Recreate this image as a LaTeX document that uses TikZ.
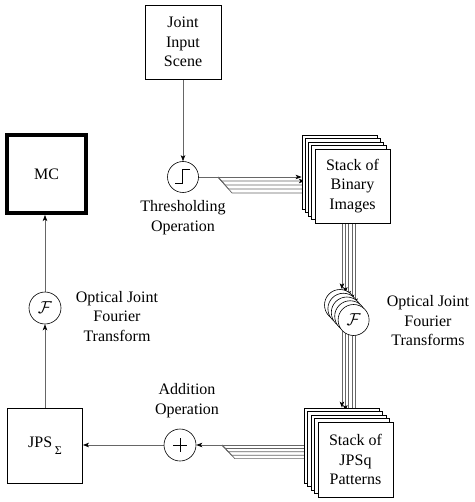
\documentclass[tikz,border=0pt]{standalone}
\usepackage{fontspec}
\setmainfont{Liberation Serif}
\usetikzlibrary{arrows.meta,calc}
\pgfdeclarelayer{paper}
\pgfdeclarelayer{wires}
\pgfsetlayers{paper,wires,main}
\begin{document}
\begin{tikzpicture}[x=1pt,y=-1pt,
  txt/.style={font=\fontsize{16}{19.5}\selectfont, align=center},
  box/.style={draw, line width=0.9pt, minimum width=76pt, minimum height=74pt, inner sep=0pt, txt},
  page/.style={draw, fill=white, line width=0.8pt, minimum width=75pt, minimum height=74pt, inner sep=0pt, txt},
  op/.style={draw, circle, fill=white, line width=0.6pt, minimum size=31pt, inner sep=0pt},
  wire/.style={draw=black!60, line width=0.7pt},
  arr/.style={wire, -{Stealth[length=6pt,width=4.5pt,inset=1.5pt,color=black]}}]
\begin{pgfonlayer}{paper}
\fill[white] (0,0) rectangle (474,502);
\end{pgfonlayer}
\useasboundingbox (0,0) rectangle (474,502);

% Joint input scene and thresholding
\node[box] (jis) at (183,42) {Joint\\Input\\Scene};
\node[op] (thr) at (183,177) {};
\draw[line width=0.6pt] ($(thr)+(-8,6)$) -- ++(7,0) -- ++(0,-14) -- ++(8,0);
\node[txt] (thrl) at (183,217.5) {Thresholding\\Operation};

% stack of binary images
\foreach \j in {0,...,3} \node[page] (b\j) at ({339.5+3.25*\j},{172+3.5*\j}) {};
\node[page] (b4) at (352.5,186) {Stack of\\Binary\\Images};

% optical joint Fourier transforms (stack of circles)
\foreach \j in {0,...,3} \node[op] (f\j) at ({340+3.4*\j},{305+3.75*\j}) {};
\node[op, font=\fontsize{17}{17}\selectfont] (f4) at (353.6,320) {$\mathcal{F}$};
\node[txt] (fl) at (428,321) {Optical Joint\\Fourier\\Transforms};

% stack of JPSq patterns
\foreach \j in {0,...,3} \node[page, minimum height=75pt] (p\j) at ({341.5+3.5*\j},{445.5+3.5*\j}) {};
\node[page, minimum height=75pt] (p4) at (355.5,459.5) {Stack of\\JPSq\\Patterns};

% addition
\node[op, minimum size=32pt] (add) at (180,445) {};
\draw[line width=0.6pt] ($(add)+(-7,0)$) -- ++(14,0);
\draw[line width=0.6pt] ($(add)+(0,-7)$) -- ++(0,14);
\node[txt] (addl) at (187,400.5) {Addition\\Operation};

% JPS sum, FT, MC
\node[box, minimum width=75pt, minimum height=75pt] (jps) at (45,445.5) {JPS\,\raisebox{-7pt}{\fontsize{12}{12}\selectfont Σ}};
\node[op, minimum size=32pt, font=\fontsize{16}{16}\selectfont] (ft) at (45,308) {$\mathcal{F}$};
\node[txt] (ftl) at (117,316.5) {Optical Joint\\Fourier\\Transform};
\node[draw, line width=4pt, minimum width=79pt, minimum height=78pt, inner sep=0pt, txt] (mc) at (46.5,174) {MC};

\begin{pgfonlayer}{wires}
\draw[arr] (jis.south) -- (thr.north);
\coordinate (fan) at (218,177);
\draw[wire] (thr.east) -- (fan);
\foreach \j in {0,...,4} {
  \path (fan) ++({3.5*\j},{4*\j}) coordinate (t\j);
  \draw[arr] (fan) -- (t\j) -- (t\j -| b\j.west);
}
\foreach \j in {0,...,4} {
  \draw[arr] (f\j.83 |- b\j.south) -- (f\j.83);
  \draw[arr] (f\j.83 |- f\j.center) -- (f\j.83 |- p\j.north);
}
\coordinate (cv) at (222,445);
\foreach \j in {0,...,4} {
  \path (cv) ++({3.2*\j},{3.4*\j}) coordinate (u\j);
  \draw[wire] (p\j.west |- u\j) -- (u\j) -- (cv);
}
\draw[arr] (cv) -- (add.east);
\draw[arr] (add.west) -- (add.west -| jps.east);
\draw[arr] (jps.north) -- (jps.north |- ft.south);
\draw[arr] (ft.north) -- (ft.north |- mc.south);
\end{pgfonlayer}
\end{tikzpicture}
\end{document}
